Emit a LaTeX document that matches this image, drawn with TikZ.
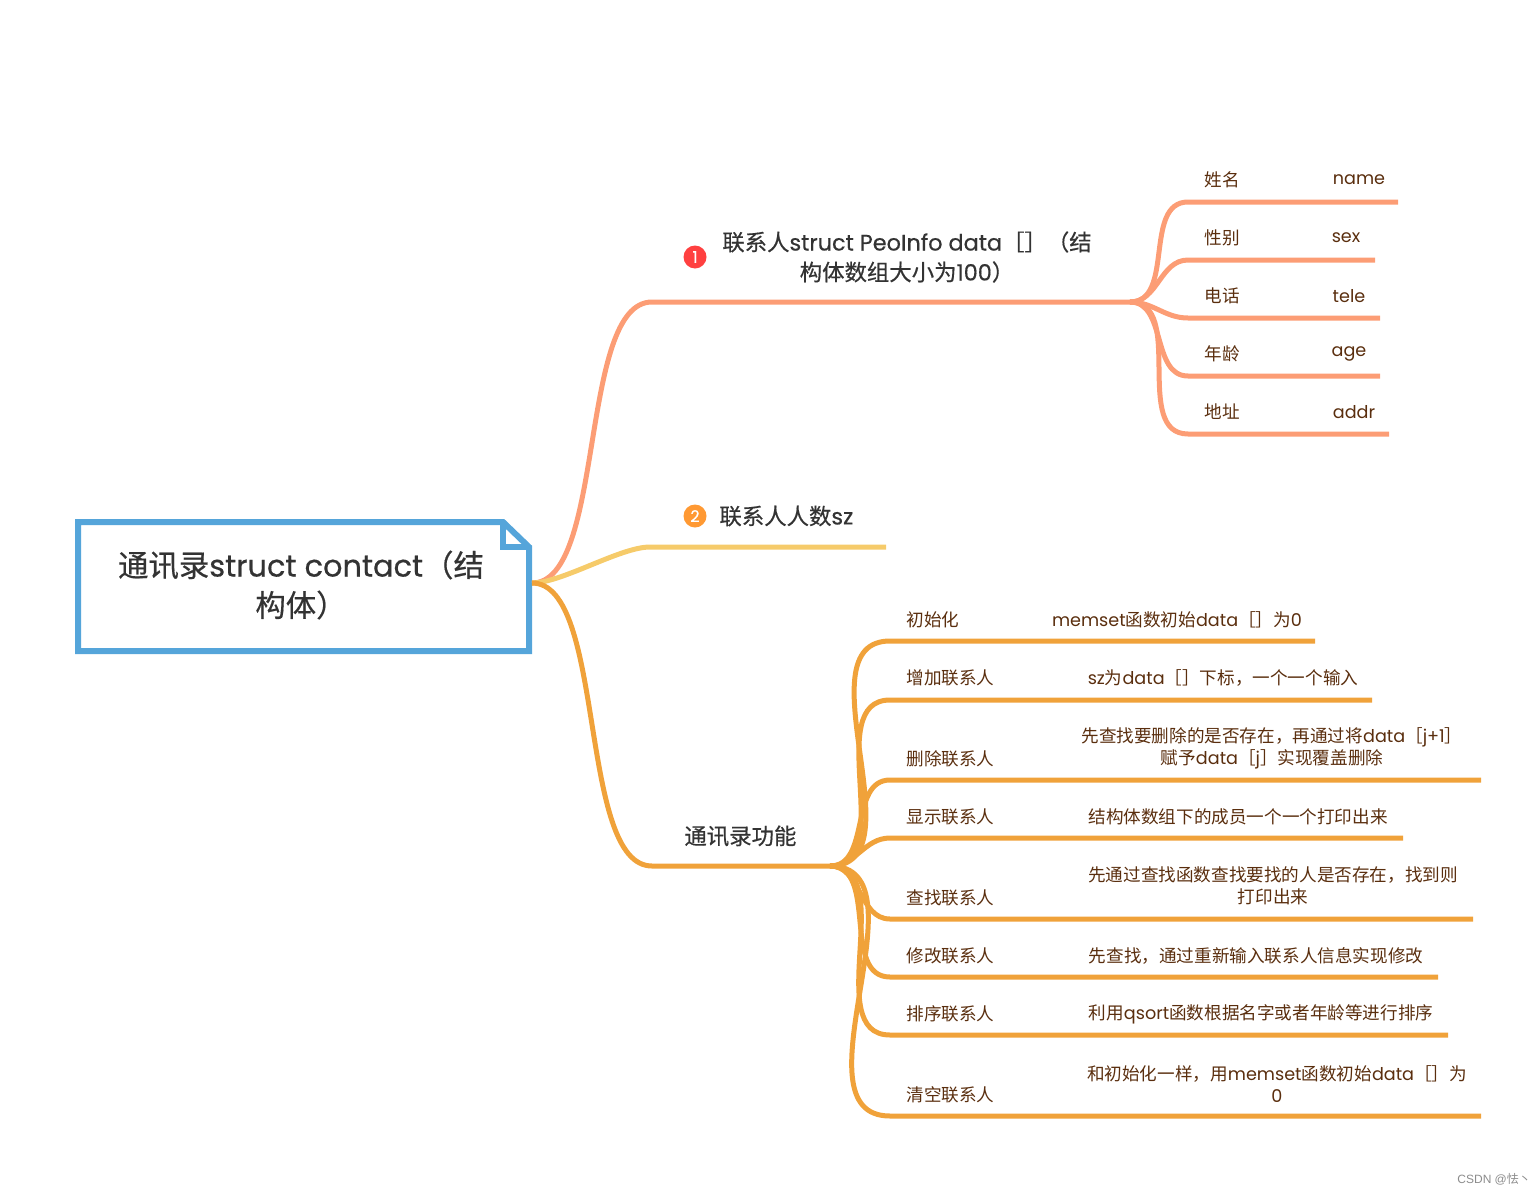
\documentclass[tikz,border=0pt]{standalone}
\usepackage{fontspec}
\setmainfont{Poppins}
\newfontfamily\zhf{Noto Sans CJK SC}
\newfontfamily\zhb[FakeBold=0.5]{Noto Sans CJK SC}
\newfontfamily\enb[FakeBold=0.5]{Poppins}
\newfontfamily\wmf{Liberation Sans}
\newcommand{\zh}[1]{{\zhf #1}}
\newcommand{\zB}[1]{{\zhb #1}}
\definecolor{cBox}{HTML}{55A5DA}
\definecolor{cOne}{HTML}{FC9D75}
\definecolor{cTwo}{HTML}{F6CB6A}
\definecolor{cThree}{HTML}{F0A23A}
\definecolor{cLeaf}{HTML}{5A2E0E}
\definecolor{cHead}{HTML}{333333}
\tikzset{
  x=0.5pt,y=-0.5pt,
  hub/.style={inner sep=0pt,minimum size=0pt},
  wire/.style={line width=2.5pt,line cap=butt,line join=round},
  sbend/.style={out=0,in=180,looseness=#1},
  sbend/.default=1,
  roottext/.style={font=\fontsize{15.2}{20}\selectfont\enb,text=cHead,align=center,inner sep=0pt},
  headtext/.style={font=\fontsize{11.2}{15}\selectfont\enb,text=cHead,align=center,inner sep=0pt},
  leaftext/.style={font=\fontsize{8.8}{11}\selectfont,text=cLeaf,align=center,inner sep=0pt},
  badge/.style={circle,inner sep=0pt,minimum size=11.5pt,text=white,font=\fontsize{8}{8}\selectfont\enb}
}
\begin{document}
\begin{tikzpicture}
\useasboundingbox (0,0) rectangle (1536,1194);
% root
\coordinate (bTL) at (78,522);
\coordinate (bBR) at (529,651);
\node[hub] (root) at (532,583) {};
\draw[cBox,line width=3pt,fill=white,line join=miter] (78,522) -- (503,522) -- (529,547) -- (529,651) -- (78,651) -- cycle;
\draw[cBox,line width=3pt,line join=miter] (503,522) -- (503,547) -- (529,547);
\node[roottext] (rootlabel) at (301,585) {\zB{通讯录}struct contact\zB{（结}\\\zB{构体）}};
% hubs
\node[hub] (a0) at (652,302) {}; \node[hub] (a1) at (1130,302) {};
\node[hub] (b0) at (650,547) {}; \node[hub] (b1) at (886,547) {};
\node[hub] (c0) at (652,866) {}; \node[hub] (c1) at (830,866) {};
\draw[wire,cOne] (root.center) to[sbend=0.62] (a0.center) -- (a1.center);
\draw[wire,cTwo] (root.center) to[sbend=0.62] (b0.center) -- (b1.center);
\draw[wire,cThree] (root.center) to[sbend=0.62] (c0.center) -- (c1.center);
% branch one leaves
\foreach \n/\y/\e in {1/202/1398,2/260/1375,3/318/1380,4/376/1380,5/434/1389}{
  \node[hub] (p\n) at (1188,\y) {};
  \node[hub] (q\n) at (\e,\y) {};
  \draw[wire,cOne] (a1.center) to[sbend=1] (p\n.center) -- (q\n.center);
}
% branch three leaves
\foreach \n/\y/\e in {1/641/1315,2/700/1372,3/780/1481,4/838/1403,5/919/1473,6/977/1438,7/1035/1448,8/1116/1481}{
  \node[hub] (r\n) at (890,\y) {};
  \node[hub] (s\n) at (\e,\y) {};
  \draw[wire,cThree] (c1.center) to[sbend=1] (r\n.center) -- (s\n.center);
}
% heads
\node[badge,fill=red!75!white] (n1) at (695,257) {1};
\node[badge,fill=orange!80!white] (n2) at (695,516) {2};
\node[headtext] (h1) at (907,257) {\zB{联系人}struct PeoInfo data\zB{［］（结}\\\zB{构体数组大小为}100\zB{）}};
\node[headtext,anchor=west] (h2) at (719,516) {\zB{联系人人数}sz};
\node[headtext,anchor=west] (h3) at (684,836) {\zB{通讯录功能}};
% leaves one
\foreach \n/\y/\t/\v/\vx in {1/180/姓名/name/1359,2/238/性别/sex/1346,3/296/电话/tele/1349,4/354/年龄/age/1349,5/412/地址/addr/1354}{
  \node[leaftext,anchor=west] (k\n) at (1204,\y) {\zh{\t}};
  \node[leaftext] (v\n) at (\vx,\y) {\v};
}
% leaves three
\node[leaftext,anchor=west] (t1) at (906,620) {\zh{初始化}};
\node[leaftext,anchor=west] (t2) at (906,678) {\zh{增加联系人}};
\node[leaftext,anchor=west] (t3) at (906,759) {\zh{删除联系人}};
\node[leaftext,anchor=west] (t4) at (906,817) {\zh{显示联系人}};
\node[leaftext,anchor=west] (t5) at (906,898) {\zh{查找联系人}};
\node[leaftext,anchor=west] (t6) at (906,956) {\zh{修改联系人}};
\node[leaftext,anchor=west] (t7) at (906,1014) {\zh{排序联系人}};
\node[leaftext,anchor=west] (t8) at (906,1095) {\zh{清空联系人}};
\node[leaftext] (u1) at (1177,620) {memset\zh{函数初始}data\zh{［］为}0};
\node[leaftext] (u2) at (1223,678) {sz\zh{为}data\zh{［］下标，一个一个输入}};
\node[leaftext] (u3) at (1272,748) {\zh{先查找要删除的是否存在，再通过将}data\zh{［}j+1\zh{］}\\\zh{赋予}data\zh{［}j\zh{］实现覆盖删除}};
\node[leaftext] (u4) at (1238,817) {\zh{结构体数组下的成员一个一个打印出来}};
\node[leaftext] (u5) at (1273,886) {\zh{先通过查找函数查找要找的人是否存在，找到则}\\\zh{打印出来}};
\node[leaftext] (u6) at (1256,956) {\zh{先查找，通过重新输入联系人信息实现修改}};
\node[leaftext] (u7) at (1261,1014) {\zh{利用}qsort\zh{函数根据名字或者年龄等进行排序}};
\node[leaftext] (u8) at (1277,1084) {\zh{和初始化一样，用}memset\zh{函数初始}data\zh{［］为}\\0};
\node[inner sep=0pt,text=black!45,font=\fontsize{6}{6}\selectfont\wmf,anchor=west] (wm) at (1457,1179) {CSDN @\zh{怯丶}};
\end{tikzpicture}
\end{document}
